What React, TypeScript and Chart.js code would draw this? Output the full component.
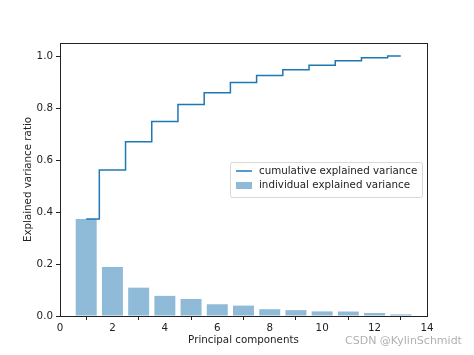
import React, { useEffect, useRef } from "react";
import { Chart, registerables } from "chart.js";

Chart.register(...registerables);

const components = [1, 2, 3, 4, 5, 6, 7, 8, 9, 10, 11, 12, 13];
const individualVar = [0.3729, 0.1886, 0.109, 0.0774, 0.0654, 0.0452, 0.0400, 0.0261, 0.0226, 0.0177, 0.0172, 0.0116, 0.0064];
const cumulativeVar = [0.3729, 0.5615, 0.6705, 0.7479, 0.8133, 0.8585, 0.8985, 0.9246, 0.9472, 0.9649, 0.9821, 0.9937, 1.0];
const xTicks = [0, 2, 4, 6, 8, 10, 12, 14];
const yTicks = [0, 0.2, 0.4, 0.6, 0.8, 1.0];
const legendLabels = ["cumulative explained variance", "individual explained variance"];
const watermark = "CSDN @KylinSchmidt";

const FONT = "'DejaVu Sans', sans-serif";
const LINE_COLOR = "#1f77b4";
const BAR_COLOR = "rgba(31,119,180,0.5)";

const overlayPlugin = {
  id: "overlay",
  afterDraw(chart: any) {
    const ctx = chart.ctx;
    const a = chart.chartArea;
    ctx.save();
    // spines
    ctx.strokeStyle = "#222";
    ctx.lineWidth = 1;
    ctx.strokeRect(Math.round(a.left) + 0.5, Math.round(a.top) + 0.5, Math.round(a.right - a.left) - 1 + 1, Math.round(a.bottom - a.top));
    // legend box
    const bx = 230.5, by = 162.5, bw = 192, bh = 35;
    ctx.fillStyle = "rgba(255,255,255,0.8)";
    ctx.strokeStyle = "#d8d8d8";
    ctx.lineWidth = 1;
    ctx.beginPath();
    if (ctx.roundRect) ctx.roundRect(bx, by, bw, bh, 2);
    else ctx.rect(bx, by, bw, bh);
    ctx.fill();
    ctx.stroke();
    // line sample
    ctx.strokeStyle = LINE_COLOR;
    ctx.lineWidth = 1.5;
    ctx.beginPath();
    ctx.moveTo(236, 171);
    ctx.lineTo(252, 171);
    ctx.stroke();
    // bar sample
    ctx.fillStyle = BAR_COLOR;
    ctx.fillRect(236, 182, 16, 7);
    ctx.fillStyle = "#222";
    ctx.font = `10.3px ${FONT}`;
    ctx.textBaseline = "middle";
    ctx.textAlign = "left";
    ctx.fillText(legendLabels[0], 259, 171);
    ctx.fillText(legendLabels[1], 259, 185.5);
    // watermark
    ctx.fillStyle = "rgba(150,150,150,0.75)";
    ctx.font = `11px ${FONT}`;
    ctx.fillText(watermark, 345, 341);
    ctx.restore();
  },
};

export default function App() {
  const ref = useRef<HTMLCanvasElement | null>(null);
  useEffect(() => {
    if (!ref.current) return;
    const chart = new Chart(ref.current, {
      type: "bar",
      data: {
        datasets: [
          {
            type: "line",
            label: legendLabels[0],
            data: components.map((c, i) => ({ x: c, y: cumulativeVar[i] })),
            borderColor: LINE_COLOR,
            borderWidth: 1.5,
            pointRadius: 0,
            stepped: "middle",
            fill: false,
            order: 0,
          } as any,
          {
            type: "bar",
            label: legendLabels[1],
            data: components.map((c, i) => ({ x: c, y: individualVar[i] })),
            backgroundColor: BAR_COLOR,
            borderWidth: 0,
            barPercentage: 0.8,
            categoryPercentage: 1.0,
            order: 1,
          } as any,
        ],
      },
      options: {
        animation: false,
        responsive: false,
        layout: { padding: { left: 0, right: 47, top: 43, bottom: 0 } },
        plugins: { legend: { display: false }, tooltip: { enabled: false } },
        scales: {
          x: {
            type: "linear",
            min: 0,
            max: 14,
            offset: false,
            afterFit: (s: any) => { s.height = 39; },
            afterBuildTicks: (s: any) => { s.ticks = xTicks.map((v) => ({ value: v })); },
            grid: { drawOnChartArea: false, drawTicks: true, tickLength: 4, color: "#222" },
            border: { display: true, color: "#222" },
            ticks: { color: "#222", padding: 2, maxRotation: 0, font: { family: FONT, size: 10.3 }, callback: (v: any) => String(v) },
            title: { display: true, text: "Principal components", color: "#222", padding: { top: 2, bottom: 8 }, font: { family: FONT, size: 10.3 } },
          },
          y: {
            type: "linear",
            min: 0,
            max: 1.05,
            afterFit: (s: any) => { s.width = 60; },
            afterBuildTicks: (s: any) => { s.ticks = yTicks.map((v) => ({ value: v })); },
            grid: { drawOnChartArea: false, drawTicks: true, tickLength: 4, color: "#222" },
            border: { display: true, color: "#222" },
            ticks: { color: "#222", padding: 3, font: { family: FONT, size: 10.3 }, callback: (v: any) => Number(v).toFixed(1) },
            title: { display: true, text: "Explained variance ratio", color: "#222", padding: { top: 22, bottom: 0 }, font: { family: FONT, size: 10.3 } },
          },
        },
      },
      plugins: [overlayPlugin],
    });
    return () => chart.destroy();
  }, []);
  return (
    <div style={{ position: "absolute", left: 0, top: 0, width: 474, height: 355, background: "#fff" }}>
      <canvas ref={ref} width={474} height={355} style={{ width: 474, height: 355, display: "block" }} />
    </div>
  );
}
